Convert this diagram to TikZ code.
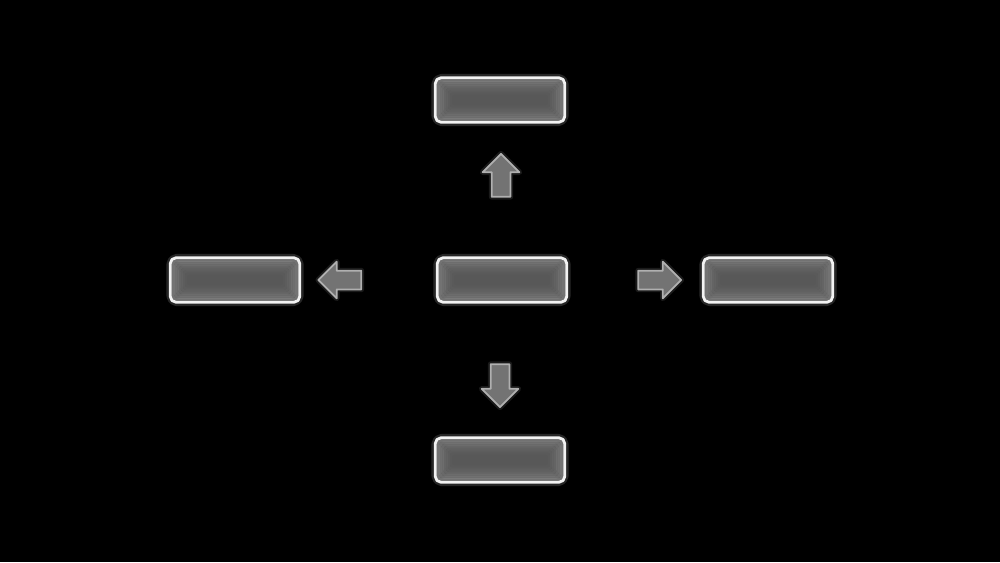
\documentclass[tikz,border=0pt]{standalone}
\usepackage{tikz}
\usetikzlibrary{shapes.arrows}
\definecolor{bg}{HTML}{000000}
\definecolor{rim}{HTML}{F2F2F2}
\definecolor{boxfill}{HTML}{585858}
\definecolor{boxedge}{HTML}{9A9A9A}
\definecolor{arrowfill}{HTML}{737373}
\definecolor{arrowedge}{HTML}{B0B0B0}
\tikzset{
  box/.style={rectangle, rounded corners=1.6pt, minimum width=1.28cm, minimum height=0.43cm,
    inner sep=0pt, fill=boxfill,
    preaction={draw=white, draw opacity=0.15, line width=2.6pt}},
  flow/.style={single arrow, inner sep=0.085cm, minimum width=0.35cm, minimum height=0.43cm,
    single arrow head extend=0.09cm, fill=arrowfill, draw=arrowedge, line width=0.5pt,
    line join=round, preaction={draw=white, draw opacity=0.1, line width=1.6pt}}
}
\begin{document}
\begin{tikzpicture}[line join=round]
  \fill[bg] (0,0) rectangle (10,5.62);
  \useasboundingbox (0,0) rectangle (10,5.62);
  % boxes
  \node[box] (centre) at (5.02,2.82) {};
  \node[box] (north) at (5.00,4.62) {};
  \node[box] (south) at (5.00,1.02) {};
  \node[box] (west) at (2.35,2.82) {};
  \node[box] (east) at (7.68,2.82) {};
  % soft inner glow and white rim of the boxes
  \foreach \b in {centre,north,south,west,east}{
    \foreach \d/\o in {0.8/0.4,1.4/0.33,2.0/0.26,2.6/0.19,3.2/0.13,3.8/0.08,4.4/0.04}
      \draw[boxedge, draw opacity=\o, line width=0.7pt, rounded corners=1pt]
        ([xshift=\d pt,yshift=\d pt]\b.south west) rectangle ([xshift=-\d pt,yshift=-\d pt]\b.north east);
    \draw[rim, line width=0.8pt, rounded corners=1.6pt] (\b.south west) rectangle (\b.north east);
  }
  % arrows
  \node[flow, shape border rotate=90] (up) at (5.01,3.82) {};
  \node[flow, shape border rotate=270] (down) at (5.00,1.81) {};
  \node[flow, shape border rotate=180] (left) at (3.445,2.82) {};
  \node[flow] (right) at (6.55,2.82) {};
\end{tikzpicture}
\end{document}
